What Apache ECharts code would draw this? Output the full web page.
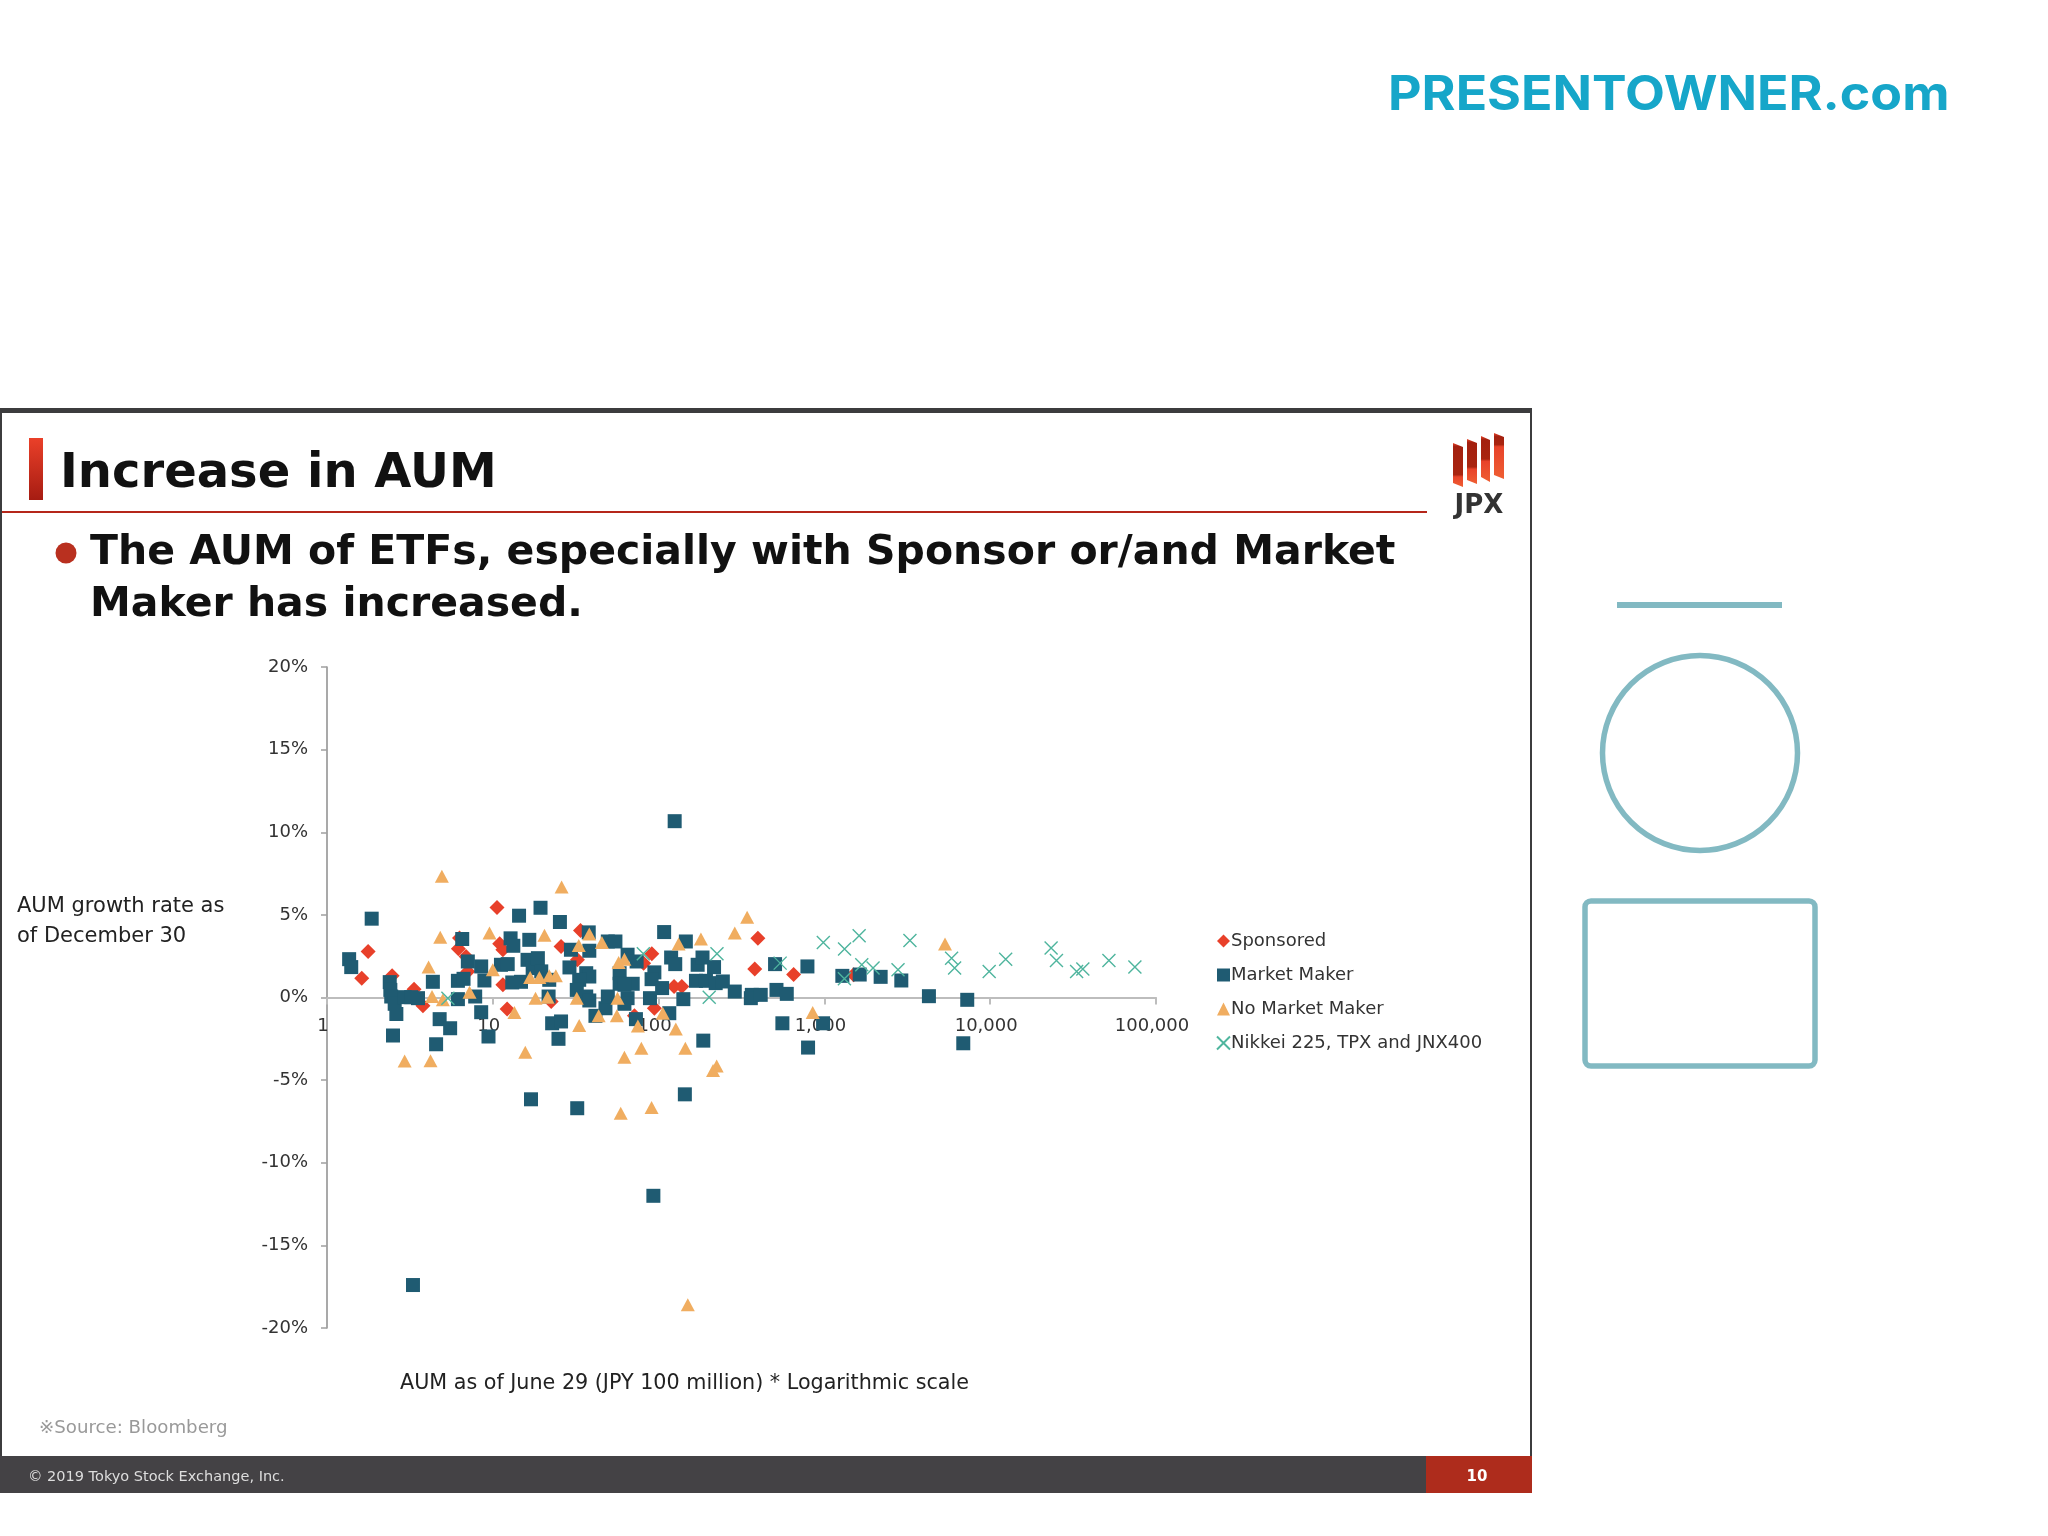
<!DOCTYPE html>
<html>
<head>
<meta charset="utf-8">
<title>Increase in AUM</title>
<script src="https://cdn.jsdelivr.net/npm/echarts@6/dist/echarts.min.js"></script>
<style>
html, body { margin: 0; padding: 0; background: #fff; }
#main { width: 2048px; height: 1536px; }
</style>
</head>
<body>
<div id="main"></div>
<script>
// values: [AUM (JPY 100 million), growth %]
var seriesNames = ['Sponsored', 'Market Maker', 'No Market Maker', 'Nikkei 225, TPX and JNX400'];

var sponsored = [
    [1.77,2.79],[1.62,1.17],[2.47,1.31],[3.35,0.5],[3.79,-0.5],[6.3,3.6],[6.2,2.95],[6.9,2.48],
    [7.07,1.58],[10.6,5.45],[11,3.25],[11.5,2.89],[11.5,0.77],[12.2,-0.7],[25.8,3.09],[32.4,2.28],
    [33.8,4.06],[22.5,-0.24],[91,2.65],[81.2,2.08],[71.5,-1.11],[94.3,-0.65],[124,0.67],[138,0.67],
    [397,3.58],[380,1.72],[652,1.39],[1500,1.37]
];

var marketMaker = [
    [125,10.67],[1.86,4.77],[1.36,2.32],[1.4,1.84],[2.39,0.93],[2.41,0.46],[2.44,0.06],[2.56,-0.38],
    [2.62,-1],[2.5,-2.3],[2.94,0.02],[3.22,0.02],[3.54,-0.04],[4.35,0.95],[4.78,-1.31],[5.53,-1.86],
    [4.55,-2.83],[6.16,1.01],[6.66,1.13],[6.54,3.54],[6.16,-0.1],[7.07,2.18],[7.83,0.06],[8.51,1.88],
    [8.9,1.03],[8.51,-0.89],[9.42,-2.36],[11.2,1.98],[12.3,2.02],[12.8,3.58],[13.3,3.13],[13.1,0.91],
    [14.8,0.95],[14.4,4.95],[16.6,3.49],[16.2,2.28],[17.4,1.78],[18.7,2.38],[19.6,1.58],[19.4,5.43],
    [25.4,4.57],[21.9,1.07],[21.7,0.06],[22.8,-1.56],[25.8,-1.45],[24.9,-2.5],[17,-6.16],[32.3,-6.7],
    [29.6,2.89],[29,1.82],[38.2,2.83],[37.9,3.94],[36.6,1.47],[38.2,1.27],[33.2,1.07],[32.1,0.46],
    [36.6,0.06],[38.2,-0.18],[41.6,-1.11],[47.8,-0.65],[49.4,0.06],[49.4,3.39],[54.9,3.39],[58.2,1.47],
    [58.2,0.83],[65,2.59],[69.8,0.83],[62.2,0.77],[65,-0.04],[62.2,-0.38],[73.7,2.18],[73,-1.31],
    [94.3,1.52],[90.7,1.11],[105,0.57],[88.7,-0.04],[116,-0.95],[119,2.42],[126,2.02],[108,3.96],
    [146,3.39],[141,-0.1],[186,-2.61],[144,-5.86],[172,1.98],[184,2.42],[216,1.84],[168,1.01],
    [193,1.01],[221,0.87],[244,0.97],[288,0.36],[365,0.16],[360,-0.04],[413,0.16],[514,0.46],
    [593,0.22],[504,2.02],[790,1.88],[558,-1.56],[982,-1.56],[797,-3.03],[1283,1.31],[1633,1.39],
    [2184,1.25],[2910,1.03],[4270,0.08],[7270,-0.14],[6880,-2.77],[93,-12],[3.3,-17.4]
];

var noMarketMaker = [
    [4.93,7.33],[26,6.69],[4.82,3.64],[9.55,3.9],[20.5,3.76],[38.2,3.84],[33,3.15],[45.5,3.33],
    [132,3.23],[180,3.54],[288,3.9],[62.2,2.32],[57.4,2.12],[4.1,1.84],[10,1.68],[16.8,1.21],
    [19.1,1.21],[21.9,1.31],[24,1.31],[4.3,0.06],[5,-0.14],[7.24,0.32],[18.1,-0.04],[21.4,0.02],
    [32.1,-0.04],[56.5,-0.04],[13.5,-0.91],[33.2,-1.7],[43.5,-1.11],[56,-1.11],[75,-1.72],[106,-0.95],
    [127,-1.9],[15.7,-3.31],[145,-3.07],[78.7,-3.07],[62.2,-3.62],[224,-4.14],[213,-4.42],[2.94,-3.84],
    [4.21,-3.82],[59.1,-7.01],[90.7,-6.65],[342,4.85],[5340,3.23],[850,-0.91],[150,-18.6]
];

var nikkei = [
    [5.36,-0.04],[80.9,2.65],[225,2.65],[202,0.02],[541,2.08],[985,3.33],[1323,2.93],[1620,3.74],
    [1680,1.98],[1320,1.13],[1965,1.78],[2780,1.68],[3280,3.45],[5850,2.38],[6100,1.78],[9860,1.58],
    [12400,2.32],[23300,2.99],[25100,2.24],[33200,1.58],[36200,1.72],[52000,2.24],[74600,1.84]
];

var slideFont = '"DejaVu Sans", sans-serif';

function label(text, x, y, size, color, weight, align, family) {
    return {
        type: 'text', x: x, y: y, silent: true,
        style: {
            text: text, fontSize: size, fontFamily: family || slideFont, fontWeight: weight || 'normal',
            fill: color, textAlign: align || 'left', textVerticalAlign: 'middle'
        }
    };
}

function jpxBar(points, stop) {
    return {
        type: 'polygon', silent: true,
        shape: { points: points },
        style: {
            fill: new echarts.graphic.LinearGradient(0, 0, 0, 1, [
                { offset: 0, color: '#e8432a' },
                { offset: 0.08, color: '#a3200f' },
                { offset: stop, color: '#a92510' },
                { offset: stop + 0.05, color: '#e8432a' },
                { offset: 1, color: '#ef5f33' }
            ])
        }
    };
}

var myChart = echarts.init(document.getElementById('main'));

var watermark = label('PRESENTOWNER.com', 1388, 96, 48, '#16a6c9', 'bold', 'left', 'Inter');
watermark.scaleX = 1.08;

option = {
    backgroundColor: '#ffffff',
    animation: false,
    grid: { left: 327, top: 667, width: 829, height: 661, containLabel: false },
    legend: {
        orient: 'vertical',
        left: 1211,
        top: 927,
        itemWidth: 13,
        itemHeight: 13,
        itemGap: 16,
        textStyle: { fontSize: 18, fontFamily: slideFont, color: '#333', padding: [0, 0, 0, -4] },
        data: seriesNames
    },
    xAxis: {
        type: 'log',
        logBase: 10,
        min: 1,
        max: 100000,
        offset: -330.5, // axis crosses at 0%
        axisLine: { onZero: false, lineStyle: { color: '#bdbdbd', width: 2 } },
        axisTick: { show: true, length: 7, lineStyle: { color: '#bdbdbd', width: 2 } },
        minorTick: { show: false },
        splitLine: { show: false },
        axisLabel: {
            margin: 20, fontSize: 18, fontFamily: slideFont, color: '#333',
            padding: [0, 8, 0, 0],
            showMinLabel: true, showMaxLabel: true,
            formatter: function (v) { return Number(v).toLocaleString('en-US'); }
        }
    },
    yAxis: {
        type: 'value',
        min: -20,
        max: 20,
        interval: 5,
        axisLine: { show: true, onZero: false, lineStyle: { color: '#8c8c8c', width: 1.5 } },
        axisTick: { show: true, length: 6, lineStyle: { color: '#a0a0a0', width: 1.5 } },
        splitLine: { show: false },
        axisLabel: { margin: 19, fontSize: 18, fontFamily: slideFont, color: '#333', padding: [6, 0, 0, 0], formatter: '{value}%' }
    },
    series: [
        { name: seriesNames[0], type: 'scatter', data: sponsored, symbol: 'diamond', symbolSize: 15,
          itemStyle: { color: '#e8402a', opacity: 1 } },
        { name: seriesNames[1], type: 'scatter', data: marketMaker, symbol: 'rect', symbolSize: 14,
          itemStyle: { color: '#1f5b72', opacity: 1 } },
        { name: seriesNames[2], type: 'scatter', data: noMarketMaker, symbol: 'triangle', symbolSize: [14, 13],
          itemStyle: { color: '#f0ad60', opacity: 1 } },
        { name: seriesNames[3], type: 'scatter', data: nikkei, symbol: 'path://M0 0L10 10M10 0L0 10', symbolSize: 13,
          itemStyle: { color: 'rgba(0,0,0,0)', borderColor: '#4fb59e', borderWidth: 1.4, opacity: 1 } }
    ],
    graphic: [
        // watermark
        watermark,
        // slide frame
        { type: 'rect', silent: true, z: -1, shape: { x: 0, y: 408, width: 1532, height: 5 }, style: { fill: '#3c3c3e' } },
        { type: 'rect', silent: true, z: -1, shape: { x: 0, y: 408, width: 2, height: 1085 }, style: { fill: '#3c3c3e' } },
        { type: 'rect', silent: true, z: -1, shape: { x: 1530, y: 408, width: 2, height: 1085 }, style: { fill: '#3c3c3e' } },
        // header
        { type: 'rect', silent: true, shape: { x: 29, y: 438, width: 14, height: 62 },
          style: { fill: new echarts.graphic.LinearGradient(0, 0, 0, 1, [{ offset: 0, color: '#ea4029' }, { offset: 1, color: '#a61c12' }]) } },
        label('Increase in AUM', 60, 475, 48, '#111', 'bold'),
        { type: 'rect', silent: true, shape: { x: 2, y: 511, width: 1425, height: 2 }, style: { fill: '#b5261a' } },
        // JPX logo
        jpxBar([[1453, 443], [1463, 447], [1463, 487], [1453, 483]], 0.72),
        jpxBar([[1467, 439], [1477, 443], [1477, 484], [1467, 480]], 0.62),
        jpxBar([[1481, 436], [1490, 440], [1490, 482], [1481, 477]], 0.5),
        jpxBar([[1494, 433], [1504, 437], [1504, 479], [1494, 475]], 0.25),
        label('JPX', 1479, 506, 26, '#333', 'bold', 'center'),
        // bullet
        { type: 'circle', silent: true, shape: { cx: 66, cy: 553, r: 10.5 }, style: { fill: '#b9301f' } },
        label('The AUM of ETFs, especially with Sponsor or/and Market', 90, 553, 41, '#111', 'bold'),
        label('Maker has increased.', 90, 605, 41, '#111', 'bold'),
        // axis captions
        label('AUM growth rate as', 17, 907, 21, '#222', 'normal'),
        label('of December 30', 17, 937, 21, '#222', 'normal'),
        label('AUM as of June 29 (JPY 100 million) * Logarithmic scale', 400, 1384, 20.7, '#222', 'normal'),
        label('※Source: Bloomberg', 39, 1428, 18.2, '#999', 'normal'),
        // footer
        { type: 'rect', silent: true, shape: { x: 0, y: 1456, width: 1426, height: 37 }, style: { fill: '#444245' } },
        { type: 'rect', silent: true, shape: { x: 1426, y: 1456, width: 106, height: 37 }, style: { fill: '#ae2c1c' } },
        label('© 2019 Tokyo Stock Exchange, Inc.', 28, 1477, 14.5, '#dddddd', 'normal'),
        label('10', 1477, 1477, 15, '#ffffff', 'bold', 'center'),
        // loose shapes on the right
        { type: 'rect', silent: true, shape: { x: 1617, y: 602, width: 165, height: 6 }, style: { fill: '#82b9c2' } },
        { type: 'circle', silent: true, shape: { cx: 1700, cy: 753, r: 97.5 }, style: { fill: 'none', stroke: '#82b9c2', lineWidth: 5.5 } },
        { type: 'rect', silent: true, shape: { x: 1585, y: 901, width: 230, height: 165, r: 6 }, style: { fill: 'none', stroke: '#82b9c2', lineWidth: 5.5 } }
    ]
};

myChart.setOption(option);
</script>
</body>
</html>
